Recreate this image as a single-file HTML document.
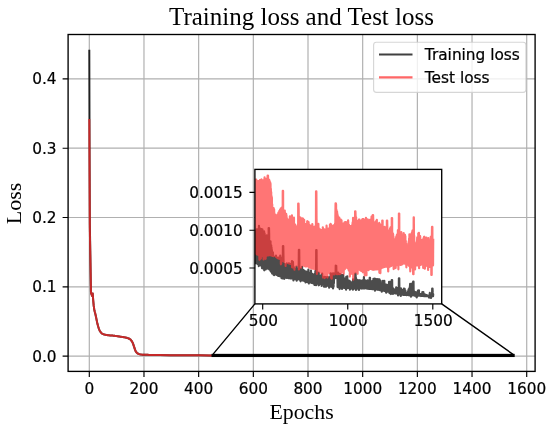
<!DOCTYPE html>
<html><head><meta charset="utf-8"><title>Training loss and Test loss</title>
<style>html,body{margin:0;padding:0;background:#fff}svg{display:block}</style></head>
<body>
<svg width="550" height="428" viewBox="0 0 550 428">
<rect width="550" height="428" fill="#fff"/>
<defs><clipPath id="cm"><rect x="68.1" y="34.5" width="467.0" height="336.9"/></clipPath><clipPath id="ci"><rect x="254.9" y="169.4" width="186.79999999999998" height="134.49999999999997"/></clipPath></defs>
<path d="M89.30 34.5V371.4M143.98 34.5V371.4M198.65 34.5V371.4M253.33 34.5V371.4M308.00 34.5V371.4M362.68 34.5V371.4M417.36 34.5V371.4M472.03 34.5V371.4M526.71 34.5V371.4M68.1 356.10H535.1M68.1 286.80H535.1M68.1 217.50H535.1M68.1 148.20H535.1M68.1 78.90H535.1" stroke="#b0b0b0" stroke-width="1.18" fill="none"/>
<g clip-path="url(#cm)" fill="none" stroke-width="2.0" stroke-linejoin="round" stroke-linecap="butt">
<path d="M89.30 49.66L89.57 148.20L89.85 224.43L90.60 270.00L91.00 293.00L92.10 296.00L92.70 293.50L93.20 300.22L93.70 305.66L94.20 309.18L94.70 311.48L95.20 313.37L95.70 315.46L96.20 317.88L96.70 320.36L97.20 322.67L97.70 324.66L98.20 326.53L98.70 328.24L99.20 329.65L99.70 330.66L100.20 331.51L100.70 332.24L101.20 332.85L101.70 333.31L102.20 333.61L102.70 333.85L103.20 334.07L103.70 334.27L104.20 334.44L104.70 334.60L105.20 334.73L105.70 334.85L106.20 334.95L106.70 335.04L107.20 335.11L107.70 335.18L108.20 335.24L108.70 335.29L109.20 335.34L109.70 335.38L110.20 335.42L110.70 335.46L111.20 335.49L111.70 335.53L112.20 335.57L112.70 335.62L113.20 335.67L113.70 335.72L114.20 335.78L114.70 335.85L115.20 335.91L115.70 335.98L116.20 336.05L116.70 336.12L117.20 336.20L117.70 336.27L118.20 336.35L118.70 336.43L119.20 336.51L119.70 336.58L120.20 336.66L120.70 336.74L121.20 336.81L121.70 336.88L122.20 336.95L122.70 337.03L123.20 337.11L123.70 337.19L124.20 337.28L124.70 337.37L125.20 337.47L125.70 337.58L126.20 337.70L126.70 337.83L127.20 337.97L127.70 338.13L128.20 338.31L128.70 338.51L129.20 338.75L129.70 339.02L130.20 339.34L130.70 339.79L131.20 340.37L131.70 341.07L132.20 341.88L132.70 342.80L133.20 344.11L133.70 345.62L134.20 347.09L134.70 348.67L135.20 350.20L135.70 351.30L136.20 352.00L136.70 352.61L137.20 353.11L137.70 353.49L138.20 353.76L138.70 353.94L139.20 354.09L139.70 354.24L140.20 354.36L140.70 354.46L141.20 354.55L141.70 354.62L142.20 354.67L142.70 354.70L143.20 354.72L143.70 354.74L144.20 354.76L144.70 354.78L145.20 354.79L145.70 354.81L146.20 354.82L146.70 354.83L147.20 354.85L147.70 354.86L148.20 354.87L148.70 354.88L149.20 354.89L149.70 354.90L150.20 354.91L150.70 354.91L151.20 354.92L151.70 354.93L152.20 354.93L152.70 354.94L153.20 354.95L153.70 354.95L154.20 354.96L154.70 354.96L155.20 354.97L155.70 354.97L156.20 354.98L156.70 354.99L157.20 354.99L157.70 355.00L158.20 355.00L158.70 355.01L159.20 355.01L159.70 355.02L160.00 355.02L170.00 355.13L180.00 355.22L190.00 355.29L200.00 355.35L210.00 355.39L220.00 355.43L230.00 355.46L240.00 355.48L250.00 355.51L260.00 355.53L270.00 355.55L280.00 355.57L290.00 355.58L300.00 355.60L310.00 355.62L320.00 355.63L330.00 355.65L340.00 355.67L350.00 355.68L360.00 355.70L370.00 355.71L380.00 355.73L390.00 355.74L400.00 355.75L410.00 355.77L420.00 355.78L430.00 355.79L440.00 355.80L450.00 355.81L460.00 355.82L470.00 355.83L480.00 355.84L490.00 355.84L499.37 355.85" stroke="#000" stroke-opacity="0.82"/>
<path d="M89.30 119.09L89.57 175.92L89.85 231.36L90.60 270.00L91.00 293.00L92.10 296.00L92.70 293.50L93.20 300.22L93.70 305.66L94.20 309.18L94.70 311.48L95.20 313.37L95.70 315.46L96.20 317.88L96.70 320.36L97.20 322.67L97.70 324.66L98.20 326.53L98.70 328.24L99.20 329.65L99.70 330.66L100.20 331.51L100.70 332.24L101.20 332.85L101.70 333.31L102.20 333.61L102.70 333.85L103.20 334.07L103.70 334.27L104.20 334.44L104.70 334.60L105.20 334.73L105.70 334.85L106.20 334.95L106.70 335.04L107.20 335.11L107.70 335.18L108.20 335.24L108.70 335.29L109.20 335.34L109.70 335.38L110.20 335.42L110.70 335.46L111.20 335.49L111.70 335.53L112.20 335.57L112.70 335.62L113.20 335.67L113.70 335.72L114.20 335.78L114.70 335.85L115.20 335.91L115.70 335.98L116.20 336.05L116.70 336.12L117.20 336.20L117.70 336.27L118.20 336.35L118.70 336.43L119.20 336.51L119.70 336.58L120.20 336.66L120.70 336.74L121.20 336.81L121.70 336.88L122.20 336.95L122.70 337.03L123.20 337.11L123.70 337.19L124.20 337.28L124.70 337.37L125.20 337.47L125.70 337.58L126.20 337.70L126.70 337.83L127.20 337.97L127.70 338.13L128.20 338.31L128.70 338.51L129.20 338.75L129.70 339.02L130.20 339.34L130.70 339.79L131.20 340.37L131.70 341.07L132.20 341.88L132.70 342.80L133.20 344.11L133.70 345.62L134.20 347.09L134.70 348.67L135.20 350.20L135.70 351.30L136.20 352.00L136.70 352.61L137.20 353.11L137.70 353.49L138.20 353.76L138.70 353.94L139.20 354.09L139.70 354.24L140.20 354.36L140.70 354.46L141.20 354.55L141.70 354.62L142.20 354.67L142.70 354.70L143.20 354.72L143.70 354.74L144.20 354.76L144.70 354.78L145.20 354.79L145.70 354.81L146.20 354.82L146.70 354.83L147.20 354.85L147.70 354.86L148.20 354.87L148.70 354.88L149.20 354.89L149.70 354.90L150.20 354.91L150.70 354.91L151.20 354.92L151.70 354.93L152.20 354.93L152.70 354.94L153.20 354.95L153.70 354.95L154.20 354.96L154.70 354.96L155.20 354.97L155.70 354.97L156.20 354.98L156.70 354.99L157.20 354.99L157.70 355.00L158.20 355.00L158.70 355.01L159.20 355.01L159.70 355.02L160.00 355.02L170.00 355.13L180.00 355.22L190.00 355.29L200.00 355.35L210.00 355.39L220.00 355.43L230.00 355.46L240.00 355.48L250.00 355.51L260.00 355.53L270.00 355.55L280.00 355.57L290.00 355.58L300.00 355.60L310.00 355.62L320.00 355.63L330.00 355.65L340.00 355.67L350.00 355.68L360.00 355.70L370.00 355.71L380.00 355.73L390.00 355.74L400.00 355.75L410.00 355.77L420.00 355.78L430.00 355.79L440.00 355.80L450.00 355.81L460.00 355.82L470.00 355.83L480.00 355.84L490.00 355.84L499.37 355.85" stroke="#e02828" stroke-opacity="0.85"/>
</g>
<rect x="68.1" y="34.5" width="467.0" height="336.9" fill="none" stroke="#000" stroke-width="1.35"/>
<path d="M89.30 371.4v5.5M143.98 371.4v5.5M198.65 371.4v5.5M253.33 371.4v5.5M308.00 371.4v5.5M362.68 371.4v5.5M417.36 371.4v5.5M472.03 371.4v5.5M526.71 371.4v5.5M68.1 356.10h-5.5M68.1 286.80h-5.5M68.1 217.50h-5.5M68.1 148.20h-5.5M68.1 78.90h-5.5" stroke="#000" stroke-width="1.15" fill="none"/>
<g font-family='"DejaVu Sans","Liberation Sans",sans-serif' font-size="15.3" fill="#000" stroke="#000" stroke-width="0.22">
<text x="89.30" y="393.6" text-anchor="middle">0</text>
<text x="143.98" y="393.6" text-anchor="middle">200</text>
<text x="198.65" y="393.6" text-anchor="middle">400</text>
<text x="253.33" y="393.6" text-anchor="middle">600</text>
<text x="308.00" y="393.6" text-anchor="middle">800</text>
<text x="362.68" y="393.6" text-anchor="middle">1000</text>
<text x="417.36" y="393.6" text-anchor="middle">1200</text>
<text x="472.03" y="393.6" text-anchor="middle">1400</text>
<text x="526.71" y="393.6" text-anchor="middle">1600</text>
<text x="56.5" y="361.60" text-anchor="end">0.0</text>
<text x="56.5" y="292.30" text-anchor="end">0.1</text>
<text x="56.5" y="223.00" text-anchor="end">0.2</text>
<text x="56.5" y="153.70" text-anchor="end">0.3</text>
<text x="56.5" y="84.40" text-anchor="end">0.4</text>
</g>
<g font-family='"Liberation Serif","DejaVu Serif",serif' fill="#000">
<text x="301.5" y="24.8" font-size="25" text-anchor="middle">Training loss and Test loss</text>
<text x="301.6" y="418.7" font-size="21.8" text-anchor="middle">Epochs</text>
<text transform="translate(21,203.5) rotate(-90)" font-size="22" text-anchor="middle">Loss</text>
</g>
<g fill="none" stroke="#000" stroke-width="1.4">
<rect x="212.52" y="354.85" width="301.18" height="1.19" stroke-width="2.0" fill="#000"/>
<path d="M254.9 303.9L212.52 354.85M441.7 303.9L513.70 354.85"/>
</g>
<rect x="254.9" y="169.4" width="186.79999999999998" height="134.49999999999997" fill="#fff"/>
<g clip-path="url(#ci)" fill="none" stroke-linejoin="round" stroke-width="2.2">
<path d="M253.20 231.64L253.37 264.49L253.54 233.58L253.71 264.16L253.88 232.48L254.05 263.20L254.22 262.85L254.39 262.72L254.56 232.98L254.73 262.90L254.90 234.04L255.07 262.78L255.24 232.28L255.41 263.18L255.58 230.97L255.75 263.26L255.92 230.78L256.09 263.24L256.26 230.24L256.43 262.65L256.60 229.43L256.77 263.36L256.94 230.53L257.11 229.64L257.28 263.86L257.45 263.35L257.62 229.46L257.79 263.86L257.96 230.62L258.13 264.00L258.30 229.82L258.47 264.14L258.64 263.94L258.81 266.11L258.98 225.78L259.15 264.47L259.32 230.04L259.49 229.87L259.65 230.84L259.82 264.15L259.99 228.78L260.16 264.82L260.33 228.75L260.50 264.39L260.67 228.87L260.84 264.67L261.01 265.35L261.18 265.45L261.35 229.52L261.52 266.18L261.69 229.10L261.86 266.23L262.03 268.07L262.20 266.70L262.37 229.38L262.54 266.32L262.71 231.18L262.88 268.48L263.05 231.78L263.22 267.80L263.39 234.00L263.56 268.00L263.73 232.89L263.90 268.42L264.07 231.27L264.24 270.34L264.41 235.92L264.58 233.34L264.75 237.23L264.92 269.21L265.09 239.49L265.26 269.09L265.43 240.06L265.60 269.42L265.77 269.12L265.94 268.97L266.11 239.48L266.28 268.44L266.45 238.95L266.62 238.97L266.79 235.41L266.96 267.71L267.13 239.79L267.30 267.52L267.47 238.64L267.64 267.43L267.81 239.09L267.98 268.64L268.15 238.76L268.32 267.88L268.49 268.29L268.66 228.10L268.83 228.10L268.99 228.10L269.16 234.46L269.33 269.40L269.50 269.11L269.67 269.60L269.84 269.75L270.01 241.03L270.18 242.19L270.35 270.56L270.52 241.29L270.69 271.20L270.86 245.65L271.03 271.31L271.20 245.23L271.37 272.09L271.54 247.61L271.71 272.18L271.88 249.96L272.05 273.52L272.22 251.75L272.39 272.09L272.56 272.88L272.73 272.74L272.90 252.37L273.07 254.96L273.24 255.25L273.41 274.50L273.58 272.99L273.75 274.97L273.92 256.87L274.09 275.17L274.26 257.46L274.43 273.85L274.60 257.06L274.77 273.84L274.94 257.87L275.11 274.00L275.28 258.49L275.45 274.31L275.62 258.51L275.79 274.52L275.96 255.60L276.13 274.46L276.30 260.24L276.47 274.79L276.64 258.16L276.81 274.92L276.98 258.64L277.15 274.86L277.32 257.73L277.49 275.29L277.66 259.50L277.83 275.59L278.00 275.65L278.17 275.39L278.33 257.63L278.50 275.88L278.67 258.19L278.84 275.95L279.01 258.11L279.18 275.67L279.35 258.34L279.52 276.21L279.69 258.03L279.86 276.11L280.03 259.39L280.20 255.58L280.37 259.45L280.54 276.43L280.71 260.29L280.88 262.01L281.05 257.50L281.22 276.24L281.39 258.14L281.56 278.14L281.73 262.04L281.90 276.27L282.07 262.93L282.24 277.93L282.41 262.35L282.58 276.81L282.75 278.42L282.92 246.10L283.09 246.10L283.26 246.10L283.43 255.10L283.60 263.84L283.77 264.11L283.94 276.86L284.11 264.65L284.28 278.86L284.45 264.71L284.62 263.98L284.79 277.48L284.96 264.30L285.13 264.41L285.30 277.24L285.47 265.65L285.64 277.56L285.81 277.61L285.98 277.71L286.15 265.81L286.32 277.35L286.49 277.71L286.66 277.83L286.83 263.47L287.00 277.12L287.17 266.53L287.34 277.66L287.51 267.95L287.67 277.30L287.84 267.06L288.01 267.94L288.18 268.25L288.35 278.14L288.52 269.43L288.69 267.53L288.86 263.40L289.03 277.84L289.20 278.10L289.37 278.12L289.54 266.74L289.71 278.15L289.88 263.79L290.05 277.82L290.22 278.13L290.39 278.38L290.56 265.96L290.73 278.15L290.90 266.09L291.07 278.46L291.24 265.98L291.41 265.12L291.58 265.59L291.75 278.07L291.92 261.20L292.09 278.29L292.26 267.16L292.43 278.16L292.60 265.48L292.77 278.51L292.94 261.93L293.11 266.03L293.28 266.60L293.45 280.45L293.62 266.84L293.79 278.38L293.96 267.85L294.13 278.67L294.30 268.70L294.47 278.84L294.64 278.79L294.81 278.71L294.98 278.74L295.15 278.97L295.32 270.21L295.49 278.50L295.66 270.21L295.83 279.10L296.00 269.67L296.17 278.85L296.34 266.59L296.51 278.68L296.68 280.57L296.85 279.04L297.01 269.18L297.18 279.34L297.35 279.27L297.52 279.33L297.69 279.36L297.86 270.71L298.03 278.88L298.20 269.36L298.37 270.01L298.54 279.24L298.71 264.91L298.88 249.80L299.05 249.80L299.22 249.80L299.39 267.93L299.56 279.76L299.73 269.63L299.90 279.73L300.07 279.84L300.24 279.22L300.41 269.01L300.58 281.34L300.75 268.97L300.92 279.97L301.09 279.99L301.26 279.34L301.43 270.62L301.60 280.09L301.77 269.20L301.94 279.96L302.11 266.78L302.28 280.11L302.45 280.22L302.62 280.37L302.79 270.04L302.96 280.30L303.13 271.00L303.30 280.77L303.47 270.04L303.64 280.64L303.81 270.89L303.98 280.39L304.15 270.56L304.32 280.62L304.49 271.63L304.66 281.10L304.83 271.22L305.00 281.26L305.17 271.93L305.34 280.78L305.51 282.48L305.68 280.94L305.85 272.57L306.02 281.48L306.19 271.48L306.35 281.64L306.52 272.71L306.69 281.74L306.86 272.26L307.03 281.91L307.20 281.65L307.37 281.25L307.54 271.96L307.71 272.84L307.88 273.07L308.05 282.15L308.22 272.19L308.39 269.63L308.56 281.86L308.73 283.50L308.90 282.30L309.07 281.63L309.24 272.92L309.41 281.91L309.58 274.22L309.75 281.95L309.92 272.98L310.09 282.36L310.26 274.85L310.43 273.06L310.60 273.60L310.77 274.50L310.94 270.54L311.11 282.68L311.28 274.26L311.45 282.07L311.62 282.89L311.79 282.29L311.96 273.57L312.13 282.73L312.30 274.18L312.47 282.79L312.64 276.22L312.81 276.60L312.98 283.15L313.15 283.25L313.32 282.59L313.49 282.80L313.66 275.71L313.83 283.33L314.00 274.29L314.17 283.10L314.34 274.58L314.51 285.01L314.68 276.25L314.85 283.36L315.02 275.59L315.19 283.50L315.36 271.19L315.53 283.43L315.69 275.90L315.86 283.37L316.03 285.14L316.20 250.10L316.37 250.10L316.54 250.10L316.71 274.36L316.88 283.54L317.05 276.32L317.22 283.55L317.39 276.63L317.56 283.45L317.73 283.39L317.90 283.39L318.07 276.15L318.24 276.24L318.41 276.45L318.58 285.34L318.75 272.63L318.92 285.16L319.09 275.88L319.26 283.78L319.43 276.19L319.60 283.73L319.77 275.88L319.94 283.23L320.11 276.39L320.28 283.30L320.45 277.74L320.62 283.85L320.79 277.65L320.96 284.11L321.13 277.39L321.30 284.24L321.47 274.27L321.64 286.02L321.81 284.14L321.98 284.14L322.15 273.69L322.32 284.41L322.49 277.53L322.66 283.95L322.83 278.17L323.00 284.52L323.17 278.23L323.34 284.29L323.51 279.54L323.68 284.67L323.85 278.36L324.02 286.67L324.19 276.98L324.36 285.00L324.53 276.94L324.70 284.49L324.87 284.95L325.03 286.76L325.20 285.12L325.37 285.08L325.54 276.99L325.71 284.98L325.88 277.66L326.05 286.76L326.22 278.88L326.39 278.23L326.56 278.32L326.73 285.40L326.90 277.55L327.07 277.09L327.24 278.09L327.41 285.47L327.58 277.58L327.75 277.57L327.92 277.85L328.09 286.00L328.26 277.65L328.43 285.91L328.60 277.32L328.77 286.14L328.94 278.03L329.11 287.69L329.28 277.81L329.45 287.34L329.62 277.11L329.79 285.76L329.96 277.81L330.13 286.46L330.30 277.27L330.47 286.47L330.64 273.47L330.81 286.20L330.98 277.00L331.15 286.32L331.32 278.41L331.49 286.47L331.66 278.52L331.83 286.90L332.00 278.19L332.17 286.60L332.34 273.69L332.51 286.72L332.68 277.86L332.85 287.19L333.02 288.33L333.19 287.10L333.36 273.36L333.53 286.83L333.70 276.69L333.87 283.20L334.04 276.63L334.21 278.91L334.37 276.09L334.54 277.42L334.71 275.32L334.88 277.73L335.05 274.96L335.22 277.67L335.39 272.50L335.56 277.79L335.73 265.60L335.90 265.80L336.07 265.80L336.24 265.80L336.41 272.27L336.58 277.88L336.75 275.06L336.92 277.80L337.09 275.45L337.26 275.30L337.43 275.52L337.60 287.10L337.77 276.97L337.94 287.22L338.11 272.68L338.28 287.43L338.45 276.57L338.62 287.13L338.79 276.79L338.96 287.51L339.13 277.45L339.30 287.69L339.47 278.00L339.64 289.08L339.81 273.88L339.98 287.83L340.15 287.29L340.32 287.37L340.49 277.60L340.66 287.76L340.83 287.38L341.00 287.23L341.17 278.87L341.34 287.76L341.51 274.94L341.68 287.49L341.85 278.54L342.02 288.88L342.19 279.02L342.36 287.07L342.53 277.87L342.70 287.95L342.87 278.11L343.04 287.63L343.21 274.74L343.38 278.18L343.55 279.40L343.71 287.52L343.88 279.11L344.05 287.56L344.22 287.55L344.39 287.82L344.56 278.63L344.73 287.94L344.90 280.06L345.07 288.04L345.24 279.34L345.41 287.87L345.58 280.22L345.75 287.40L345.92 279.11L346.09 289.72L346.26 276.84L346.43 276.88L346.60 280.08L346.77 288.02L346.94 288.05L347.11 279.63L347.28 276.27L347.45 287.70L347.62 280.00L347.79 280.20L347.96 280.44L348.13 287.84L348.30 280.53L348.47 280.29L348.64 280.44L348.81 287.87L348.98 281.16L349.15 287.50L349.32 280.91L349.49 288.24L349.66 281.57L349.83 289.67L350.00 282.13L350.17 289.36L350.34 281.51L350.51 288.22L350.68 282.46L350.85 283.73L351.02 282.40L351.19 288.19L351.36 282.84L351.53 288.44L351.70 282.76L351.87 287.96L352.04 288.13L352.21 288.17L352.38 287.90L352.55 288.18L352.72 281.83L352.89 289.71L353.05 279.41L353.22 288.43L353.39 281.51L353.56 288.42L353.73 281.59L353.90 288.48L354.07 282.02L354.24 288.24L354.41 288.21L354.58 288.45L354.75 280.99L354.92 288.59L355.09 280.91L355.26 273.50L355.43 273.50L355.60 273.50L355.77 288.44L355.94 290.00L356.11 278.15L356.28 288.39L356.45 280.49L356.62 288.21L356.79 280.32L356.96 288.09L357.13 280.38L357.30 288.01L357.47 288.45L357.64 288.12L357.81 280.17L357.98 280.34L358.15 282.25L358.32 288.25L358.49 280.49L358.66 289.79L358.83 280.36L359.00 289.92L359.17 280.51L359.34 281.37L359.51 281.03L359.68 280.39L359.85 280.25L360.02 280.48L360.19 280.67L360.36 288.04L360.53 288.14L360.70 288.30L360.87 281.16L361.04 288.52L361.21 280.94L361.38 288.38L361.55 280.88L361.72 288.56L361.89 281.83L362.06 288.45L362.23 280.51L362.39 288.45L362.56 280.62L362.73 288.46L362.90 282.24L363.07 288.26L363.24 288.01L363.41 288.32L363.58 280.51L363.75 288.47L363.92 277.10L364.09 288.04L364.26 280.11L364.43 288.25L364.60 280.66L364.77 288.45L364.94 280.89L365.11 281.02L365.28 280.55L365.45 287.74L365.62 281.34L365.79 280.58L365.96 280.89L366.13 288.31L366.30 281.16L366.47 288.44L366.64 281.21L366.81 288.40L366.98 281.41L367.15 281.44L367.32 288.60L367.49 288.65L367.66 280.40L367.83 288.74L368.00 288.54L368.17 288.50L368.34 281.07L368.51 288.58L368.68 288.41L368.85 288.89L369.02 280.62L369.19 288.63L369.36 288.47L369.53 288.03L369.70 277.83L369.87 288.91L370.04 277.96L370.21 287.63L370.38 281.11L370.55 281.33L370.72 282.32L370.89 288.88L371.06 288.68L371.23 288.63L371.40 281.46L371.57 288.61L371.73 282.80L371.90 289.03L372.07 281.29L372.24 288.66L372.41 281.66L372.58 289.13L372.75 282.47L372.92 289.10L373.09 282.58L373.26 289.04L373.43 278.77L373.60 289.16L373.77 282.22L373.94 281.99L374.11 281.34L374.28 289.30L374.45 282.70L374.62 289.40L374.79 278.51L374.96 290.76L375.13 281.57L375.30 289.55L375.47 289.49L375.64 289.43L375.81 282.20L375.98 282.99L376.15 279.16L376.32 289.49L376.49 282.42L376.66 289.40L376.83 288.48L377.00 289.38L377.17 283.25L377.34 289.68L377.51 283.01L377.68 282.60L377.85 279.05L378.02 289.79L378.19 283.18L378.36 289.17L378.53 279.24L378.70 283.52L378.87 283.11L379.04 289.84L379.21 283.27L379.38 279.40L379.55 283.71L379.72 290.06L379.89 285.01L380.06 283.91L380.23 283.64L380.40 289.88L380.57 280.76L380.74 290.26L380.91 284.20L381.07 290.26L381.24 290.26L381.41 290.24L381.58 290.45L381.75 291.58L381.92 290.02L382.09 290.03L382.26 283.38L382.43 290.61L382.60 285.21L382.77 284.26L382.94 280.95L383.11 290.72L383.28 284.91L383.45 290.44L383.62 284.57L383.79 290.46L383.96 284.78L384.13 290.51L384.30 280.87L384.47 290.94L384.64 284.20L384.81 284.06L384.98 286.25L385.15 291.10L385.32 284.94L385.49 284.91L385.66 285.42L385.83 291.07L386.00 290.97L386.17 292.76L386.34 285.10L386.51 284.70L386.68 284.60L386.85 285.62L387.02 290.94L387.19 291.55L387.36 285.25L387.53 285.28L387.70 285.16L387.87 291.20L388.04 291.74L388.21 291.10L388.38 285.00L388.55 290.95L388.72 286.15L388.89 291.82L389.06 281.83L389.23 291.42L389.40 284.78L389.57 293.11L389.74 285.71L389.91 291.89L390.08 281.86L390.25 292.03L390.41 285.63L390.58 291.96L390.75 285.72L390.92 294.06L391.09 285.80L391.26 292.39L391.43 285.32L391.60 292.48L391.77 280.10L391.94 280.10L392.11 280.10L392.28 292.56L392.45 292.45L392.62 289.54L392.79 288.11L392.96 293.93L393.13 288.49L393.30 292.78L393.47 290.59L393.64 292.89L393.81 291.22L393.98 293.05L394.15 289.26L394.32 293.07L394.49 292.47L394.66 293.01L394.83 289.80L395.00 292.35L395.17 292.21L395.34 293.31L395.51 291.94L395.68 293.28L395.85 293.37L396.02 293.47L396.19 287.26L396.36 293.51L396.53 291.14L396.70 293.45L396.87 289.65L397.04 293.77L397.21 290.00L397.38 289.91L397.55 288.47L397.72 293.74L397.89 289.16L398.06 295.40L398.23 288.41L398.40 293.74L398.57 287.38L398.74 294.10L398.91 278.30L399.08 278.30L399.25 278.30L399.42 294.43L399.59 290.99L399.75 294.44L399.92 291.89L400.09 291.64L400.26 294.28L400.43 294.02L400.60 294.43L400.77 295.97L400.94 288.38L401.11 292.76L401.28 294.60L401.45 294.58L401.62 292.49L401.79 294.58L401.96 290.88L402.13 290.90L402.30 290.71L402.47 294.40L402.64 290.03L402.81 294.40L402.98 294.31L403.15 294.43L403.32 294.74L403.49 294.58L403.66 294.91L403.83 288.64L404.00 289.30L404.17 289.43L404.34 289.07L404.51 294.60L404.68 288.94L404.85 295.02L405.02 294.93L405.19 294.36L405.36 290.50L405.53 294.96L405.70 292.02L405.87 292.54L406.04 293.44L406.21 294.93L406.38 294.19L406.55 295.15L406.72 294.87L406.89 294.59L407.06 294.69L407.23 294.96L407.40 295.00L407.57 292.81L407.74 292.31L407.91 294.73L408.08 291.26L408.25 295.11L408.42 290.48L408.59 289.69L408.76 289.16L408.93 294.99L409.09 289.43L409.26 295.05L409.43 288.20L409.60 295.34L409.77 288.05L409.94 286.97L410.11 283.97L410.28 294.53L410.45 286.72L410.62 295.24L410.79 286.35L410.96 296.74L411.13 287.63L411.30 295.18L411.47 287.19L411.64 295.10L411.81 295.33L411.98 283.58L412.15 286.94L412.32 295.02L412.49 295.38L412.66 295.04L412.83 287.25L413.00 295.14L413.17 281.50L413.34 281.50L413.51 281.50L413.68 295.10L413.85 292.11L414.02 295.51L414.19 291.28L414.36 295.65L414.53 291.96L414.70 295.58L414.87 293.83L415.04 293.66L415.21 294.45L415.38 295.30L415.55 295.08L415.72 295.38L415.89 292.84L416.06 292.25L416.23 292.52L416.40 297.02L416.57 295.43L416.74 297.42L416.91 295.60L417.08 295.05L417.25 294.45L417.42 295.58L417.59 294.30L417.76 295.64L417.93 290.52L418.10 295.26L418.27 293.48L418.43 295.45L418.60 293.85L418.77 295.65L418.94 290.30L419.11 295.38L419.28 293.97L419.45 295.74L419.62 294.11L419.79 295.77L419.96 293.81L420.13 294.32L420.30 294.38L420.47 295.70L420.64 294.04L420.81 295.77L420.98 295.98L421.15 295.26L421.32 294.82L421.49 294.89L421.66 294.96L421.83 295.62L422.00 295.10L422.17 295.95L422.34 292.22L422.51 295.86L422.68 292.32L422.85 295.53L423.02 294.63L423.19 295.38L423.36 292.14L423.53 295.59L423.70 294.64L423.87 296.09L424.04 294.43L424.21 294.23L424.38 295.83L424.55 295.88L424.72 294.51L424.89 294.40L425.06 296.07L425.23 295.82L425.40 295.84L425.57 296.13L425.74 294.89L425.91 295.78L426.08 295.01L426.25 295.75L426.42 295.14L426.59 296.18L426.76 295.27L426.93 295.99L427.10 295.39L427.27 295.96L427.44 295.52L427.61 295.59L427.77 295.65L427.94 295.97L428.11 295.77L428.28 296.14L428.45 295.86L428.62 295.80L428.79 297.49L428.96 296.16L429.13 296.41L429.30 296.48L429.47 295.48L429.64 295.41L429.81 292.96L429.98 297.64L430.15 296.27L430.32 296.49L430.49 295.09L430.66 296.45L430.83 296.57L431.00 297.88L431.17 295.09L431.34 296.45L431.51 296.53L431.68 296.50L431.85 295.06L432.02 296.45L432.19 288.50L432.36 288.50L432.53 288.50L432.70 292.41L432.87 294.19L433.04 296.10L433.21 293.66" stroke="#000" stroke-opacity="0.7"/>
<path d="M253.20 180.02L253.37 184.24L253.54 183.41L253.71 183.38L253.88 183.43L254.05 253.60L254.22 183.67L254.39 252.66L254.56 183.82L254.73 253.14L254.90 183.57L255.07 183.64L255.24 179.65L255.41 252.86L255.58 183.14L255.75 253.48L255.92 182.17L256.09 253.28L256.26 179.70L256.43 253.49L256.60 182.81L256.77 254.30L256.94 254.11L257.11 182.55L257.28 254.10L257.45 254.33L257.62 181.65L257.79 254.66L257.96 181.20L258.13 254.82L258.30 181.88L258.47 254.34L258.64 181.46L258.81 253.57L258.98 180.86L259.15 254.25L259.32 254.24L259.49 259.79L259.65 254.67L259.82 255.19L259.99 180.01L260.16 255.48L260.33 180.20L260.50 255.20L260.67 180.59L260.84 258.57L261.01 180.48L261.18 180.25L261.35 255.01L261.52 179.45L261.69 179.79L261.86 254.93L262.03 181.57L262.20 255.69L262.37 181.04L262.54 256.16L262.71 182.34L262.88 255.15L263.05 181.27L263.22 256.01L263.39 181.07L263.56 259.44L263.73 180.13L263.90 255.97L264.07 180.22L264.24 255.41L264.41 179.96L264.58 177.46L264.75 180.28L264.92 254.65L265.09 180.44L265.26 180.23L265.43 180.65L265.60 258.80L265.77 180.14L265.94 179.86L266.11 180.03L266.28 179.39L266.45 178.86L266.62 255.41L266.79 179.98L266.96 255.61L267.13 178.77L267.30 255.24L267.47 179.31L267.64 175.60L267.81 175.60L267.98 175.60L268.15 179.77L268.32 255.44L268.49 179.95L268.66 250.69L268.83 179.63L268.99 179.55L269.16 179.82L269.33 254.91L269.50 180.77L269.67 255.11L269.84 182.18L270.01 255.27L270.18 182.23L270.35 254.76L270.52 183.69L270.69 255.31L270.86 188.81L271.03 255.51L271.20 192.19L271.37 255.21L271.54 195.99L271.71 198.47L271.88 197.55L272.05 255.21L272.22 204.42L272.39 255.88L272.56 255.48L272.73 255.87L272.90 208.07L273.07 253.94L273.24 255.56L273.41 256.09L273.58 208.10L273.75 255.85L273.92 255.98L274.09 209.23L274.26 213.00L274.43 255.31L274.60 213.90L274.77 255.57L274.94 214.60L275.11 255.52L275.28 215.38L275.45 215.76L275.62 216.41L275.79 255.53L275.96 216.99L276.13 257.03L276.30 216.98L276.47 216.35L276.64 216.20L276.81 215.60L276.98 215.26L277.15 257.75L277.32 214.54L277.49 257.93L277.66 258.10L277.83 257.77L278.00 258.25L278.17 258.30L278.33 212.95L278.50 258.21L278.67 212.26L278.84 258.72L279.01 212.49L279.18 258.65L279.35 210.95L279.52 211.40L279.69 210.89L279.86 258.91L280.03 209.87L280.20 259.16L280.37 209.57L280.54 259.42L280.71 208.60L280.88 264.36L281.05 208.34L281.22 263.63L281.39 209.80L281.56 208.20L281.73 207.59L281.90 260.54L282.07 207.56L282.24 260.56L282.41 208.15L282.58 260.25L282.75 190.90L282.92 190.90L283.09 190.90L283.26 261.20L283.43 211.72L283.60 261.46L283.77 212.99L283.94 261.70L284.11 213.65L284.28 214.47L284.45 213.92L284.62 260.55L284.79 210.63L284.96 261.04L285.13 213.52L285.30 261.40L285.47 260.75L285.64 265.91L285.81 213.77L285.98 262.34L286.15 213.77L286.32 261.99L286.49 215.39L286.66 262.77L286.83 217.98L287.00 262.16L287.17 220.24L287.34 262.86L287.51 221.65L287.67 222.27L287.84 219.42L288.01 262.95L288.18 223.68L288.35 263.26L288.52 223.51L288.69 263.28L288.86 221.68L289.03 262.81L289.20 220.87L289.37 263.04L289.54 221.36L289.71 263.68L289.88 216.24L290.05 219.25L290.22 218.93L290.39 263.43L290.56 218.42L290.73 263.94L290.90 262.28L291.07 263.95L291.24 264.16L291.41 263.18L291.58 218.22L291.75 218.15L291.92 215.42L292.09 267.37L292.26 263.17L292.43 267.46L292.60 217.69L292.77 264.32L292.94 219.25L293.11 267.49L293.28 263.55L293.45 264.59L293.62 264.12L293.79 264.96L293.96 217.71L294.13 264.81L294.30 265.22L294.47 269.74L294.64 264.04L294.81 264.99L294.98 224.36L295.15 227.14L295.32 227.32L295.49 264.69L295.66 227.06L295.83 265.72L296.00 226.86L296.17 265.59L296.34 227.17L296.51 264.32L296.68 226.99L296.85 265.48L297.01 227.88L297.18 264.62L297.35 225.96L297.52 226.72L297.69 225.00L297.86 265.04L298.03 265.26L298.20 203.60L298.37 203.60L298.54 203.60L298.71 210.32L298.88 269.42L299.05 216.69L299.22 265.24L299.39 217.05L299.56 217.65L299.73 218.22L299.90 264.32L300.07 218.59L300.24 264.45L300.41 217.49L300.58 264.97L300.75 218.02L300.92 267.71L301.09 218.07L301.26 218.31L301.43 218.31L301.60 264.42L301.77 220.15L301.94 263.94L302.11 219.90L302.28 265.26L302.45 218.46L302.62 264.86L302.79 219.48L302.96 218.61L303.13 263.92L303.30 265.04L303.47 265.60L303.64 264.44L303.81 265.34L303.98 265.03L304.15 219.83L304.32 265.79L304.49 265.93L304.66 266.12L304.83 223.84L305.00 265.66L305.17 264.51L305.34 266.31L305.51 225.10L305.68 264.28L305.85 224.12L306.02 224.17L306.19 266.42L306.35 266.47L306.52 265.90L306.69 265.99L306.86 224.72L307.03 265.42L307.20 221.27L307.37 265.52L307.54 221.35L307.71 265.61L307.88 224.39L308.05 266.46L308.22 225.83L308.39 266.87L308.56 222.14L308.73 225.42L308.90 225.14L309.07 267.39L309.24 224.94L309.41 267.03L309.58 226.04L309.75 267.57L309.92 267.62L310.09 267.00L310.26 225.65L310.43 267.57L310.60 225.92L310.77 225.83L310.94 227.33L311.11 267.33L311.28 226.31L311.45 268.39L311.62 226.46L311.79 226.78L311.96 267.46L312.13 268.03L312.30 224.19L312.47 267.51L312.64 226.81L312.81 268.72L312.98 226.93L313.15 267.94L313.32 227.10L313.49 226.66L313.66 227.14L313.83 268.68L314.00 267.10L314.17 268.90L314.34 267.95L314.51 268.82L314.68 227.06L314.85 269.05L315.02 226.59L315.19 268.77L315.36 226.59L315.53 268.80L315.69 225.40L315.86 268.65L316.03 191.40L316.20 191.40L316.37 191.40L316.54 218.60L316.71 227.19L316.88 273.94L317.05 270.07L317.22 270.38L317.39 226.65L317.56 227.35L317.73 270.30L317.90 226.46L318.07 226.95L318.24 270.78L318.41 223.93L318.58 271.16L318.75 228.10L318.92 270.20L319.09 229.66L319.26 270.41L319.43 229.28L319.60 271.71L319.77 229.22L319.94 270.29L320.11 229.52L320.28 271.90L320.45 231.14L320.62 272.03L320.79 230.52L320.96 272.03L321.13 230.45L321.30 273.01L321.47 230.09L321.64 271.94L321.81 273.00L321.98 271.56L322.15 272.84L322.32 273.39L322.49 273.05L322.66 272.72L322.83 227.28L323.00 277.55L323.17 273.09L323.34 273.13L323.51 273.37L323.68 272.39L323.85 272.50L324.02 230.23L324.19 229.49L324.36 229.31L324.53 230.22L324.70 278.07L324.87 229.61L325.03 277.42L325.20 229.61L325.37 274.02L325.54 229.70L325.71 274.48L325.88 229.41L326.05 272.88L326.22 276.51L326.39 273.27L326.56 225.68L326.73 230.10L326.90 229.00L327.07 273.35L327.24 229.17L327.41 277.59L327.58 229.16L327.75 272.23L327.92 228.90L328.09 271.44L328.26 229.61L328.43 272.64L328.60 228.65L328.77 272.74L328.94 228.39L329.11 272.35L329.28 230.49L329.45 272.99L329.62 228.22L329.79 273.35L329.96 224.55L330.13 272.96L330.30 227.73L330.47 271.97L330.64 223.89L330.81 273.67L330.98 224.50L331.15 277.91L331.32 226.65L331.49 274.29L331.66 278.59L331.83 274.14L332.00 226.74L332.17 273.93L332.34 226.93L332.51 225.93L332.68 226.50L332.85 274.17L333.02 226.04L333.19 273.96L333.36 274.01L333.53 272.75L333.70 225.48L333.87 274.38L334.04 225.34L334.21 274.10L334.37 224.94L334.54 274.37L334.71 225.34L334.88 273.18L335.05 223.59L335.22 272.80L335.39 216.04L335.56 203.40L335.73 203.40L335.90 203.40L336.07 204.57L336.24 273.62L336.41 209.71L336.58 272.70L336.75 211.22L336.92 274.15L337.09 211.63L337.26 272.82L337.43 213.98L337.60 272.51L337.77 215.66L337.94 274.25L338.11 217.23L338.28 274.12L338.45 217.58L338.62 218.92L338.79 219.54L338.96 219.08L339.13 220.30L339.30 217.68L339.47 221.64L339.64 274.17L339.81 222.46L339.98 273.40L340.15 222.78L340.32 273.50L340.49 273.50L340.66 273.57L340.83 219.60L341.00 272.22L341.17 223.12L341.34 272.82L341.51 220.31L341.68 271.27L341.85 223.48L342.02 271.71L342.19 224.09L342.36 271.42L342.53 269.93L342.70 271.05L342.87 223.75L343.04 271.18L343.21 223.90L343.38 269.75L343.55 223.23L343.71 273.74L343.88 223.41L344.05 269.08L344.22 223.47L344.39 269.57L344.56 222.42L344.73 267.77L344.90 222.30L345.07 268.89L345.24 222.28L345.41 268.16L345.58 222.12L345.75 267.01L345.92 222.89L346.09 222.61L346.26 222.18L346.43 266.67L346.60 222.58L346.77 267.22L346.94 267.18L347.11 266.96L347.28 223.31L347.45 267.89L347.62 223.20L347.79 268.50L347.96 223.92L348.13 220.24L348.30 224.13L348.47 224.99L348.64 224.83L348.81 270.43L348.98 224.87L349.15 270.24L349.32 225.99L349.49 271.13L349.66 226.56L349.83 276.62L350.00 225.95L350.17 272.14L350.34 226.68L350.51 272.79L350.68 226.74L350.85 272.59L351.02 226.32L351.19 273.42L351.36 226.32L351.53 273.72L351.70 227.85L351.87 273.34L352.04 226.50L352.21 273.38L352.38 223.77L352.55 223.26L352.72 222.11L352.89 274.76L353.05 217.93L353.22 279.66L353.39 273.51L353.56 274.89L353.73 219.93L353.90 273.07L354.07 220.17L354.24 272.33L354.41 218.82L354.58 218.55L354.75 218.57L354.92 272.85L355.09 211.30L355.26 211.30L355.43 211.30L355.60 216.12L355.77 220.82L355.94 271.97L356.11 217.31L356.28 270.21L356.45 222.38L356.62 269.88L356.79 221.79L356.96 269.58L357.13 220.93L357.30 269.44L357.47 221.97L357.64 273.85L357.81 223.46L357.98 222.49L358.15 221.93L358.32 268.05L358.49 222.83L358.66 222.04L358.83 219.53L359.00 269.45L359.17 222.13L359.34 269.48L359.51 219.63L359.68 269.34L359.85 270.01L360.02 270.02L360.19 222.23L360.36 222.88L360.53 221.78L360.70 270.73L360.87 221.60L361.04 270.65L361.21 221.36L361.38 270.79L361.55 220.56L361.72 220.70L361.89 220.12L362.06 271.13L362.23 219.58L362.39 271.42L362.56 219.02L362.73 272.12L362.90 272.29L363.07 271.16L363.24 219.11L363.41 271.82L363.58 219.19L363.75 219.23L363.92 271.73L364.09 271.42L364.26 219.62L364.43 271.60L364.60 271.62L364.77 275.39L364.94 221.76L365.11 270.70L365.28 220.66L365.45 270.44L365.62 220.32L365.79 271.24L365.96 217.85L366.13 269.11L366.30 222.37L366.47 275.16L366.64 222.06L366.81 270.32L366.98 223.32L367.15 269.99L367.32 222.46L367.49 222.21L367.66 219.44L367.83 223.07L368.00 222.12L368.17 269.91L368.34 269.76L368.51 270.15L368.68 220.99L368.85 268.81L369.02 220.85L369.19 269.30L369.36 220.83L369.53 268.74L369.70 219.83L369.87 220.04L370.04 220.36L370.21 268.84L370.38 220.10L370.55 220.12L370.72 220.12L370.89 268.99L371.06 219.45L371.23 269.09L371.40 220.10L371.57 216.59L371.73 220.07L371.90 219.41L372.07 269.12L372.24 268.85L372.41 269.51L372.58 269.60L372.75 215.10L372.92 215.10L373.09 215.10L373.26 221.21L373.43 221.93L373.60 269.16L373.77 223.01L373.94 269.80L374.11 222.88L374.28 268.90L374.45 223.43L374.62 268.33L374.79 223.72L374.96 269.41L375.13 224.01L375.30 267.45L375.47 222.28L375.64 222.24L375.81 221.42L375.98 268.42L376.15 221.65L376.32 269.52L376.49 221.97L376.66 268.73L376.83 219.85L377.00 268.88L377.17 269.00L377.34 268.67L377.51 223.90L377.68 269.31L377.85 224.80L378.02 268.35L378.19 224.58L378.36 269.03L378.53 224.03L378.70 268.66L378.87 267.64L379.04 268.54L379.21 222.94L379.38 272.50L379.55 272.88L379.72 268.42L379.89 224.04L380.06 271.77L380.23 271.53L380.40 273.17L380.57 224.75L380.74 267.84L380.91 226.67L381.07 268.37L381.24 225.73L381.41 268.00L381.58 226.02L381.75 268.06L381.92 226.53L382.09 266.93L382.26 220.60L382.43 220.60L382.60 220.60L382.77 266.94L382.94 229.21L383.11 267.49L383.28 229.31L383.45 266.58L383.62 229.29L383.79 267.12L383.96 229.92L384.13 266.32L384.30 231.31L384.47 265.53L384.64 226.95L384.81 266.89L384.98 265.81L385.15 266.40L385.32 266.63L385.49 266.69L385.66 232.05L385.83 265.24L386.00 230.35L386.17 227.60L386.34 227.91L386.51 266.65L386.68 266.47L386.85 220.60L387.02 220.60L387.19 220.60L387.36 227.48L387.53 266.61L387.70 232.31L387.87 266.45L388.04 267.14L388.21 271.44L388.38 230.24L388.55 266.44L388.72 266.39L388.89 267.30L389.06 233.35L389.23 233.87L389.40 233.67L389.57 266.75L389.74 232.26L389.91 231.72L390.08 228.41L390.25 266.28L390.41 266.17L390.58 265.61L390.75 227.12L390.92 265.50L391.09 231.38L391.26 265.86L391.43 265.75L391.60 265.62L391.77 218.10L391.94 218.10L392.11 218.10L392.28 265.06L392.45 232.99L392.62 264.22L392.79 233.25L392.96 264.25L393.13 234.19L393.30 264.54L393.47 236.65L393.64 269.08L393.81 239.18L393.98 264.73L394.15 241.74L394.32 242.36L394.49 243.81L394.66 264.76L394.83 264.15L395.00 268.17L395.17 241.42L395.34 267.81L395.51 240.36L395.68 267.92L395.85 238.43L396.02 265.34L396.19 236.94L396.36 264.50L396.53 236.07L396.70 264.98L396.87 234.86L397.04 264.51L397.21 234.76L397.38 265.29L397.55 233.88L397.72 265.40L397.89 230.17L398.06 264.80L398.23 233.46L398.40 269.29L398.57 232.18L398.74 264.15L398.91 213.60L399.08 213.60L399.25 213.60L399.42 264.45L399.59 234.87L399.75 231.90L399.92 232.08L400.09 264.17L400.26 235.71L400.43 264.91L400.60 235.26L400.77 264.95L400.94 264.34L401.11 263.38L401.28 232.13L401.45 236.01L401.62 236.16L401.79 264.61L401.96 235.80L402.13 264.19L402.30 263.25L402.47 263.31L402.64 236.26L402.81 263.05L402.98 263.70L403.15 262.99L403.32 236.92L403.49 237.23L403.66 232.98L403.83 262.88L404.00 237.70L404.17 263.49L404.34 236.98L404.51 238.66L404.68 239.37L404.85 263.69L405.02 234.94L405.19 262.58L405.36 236.31L405.53 263.41L405.70 240.50L405.87 242.20L406.04 242.84L406.21 263.21L406.38 267.32L406.55 262.80L406.72 247.02L406.89 248.20L407.06 250.39L407.23 262.33L407.40 252.51L407.57 262.84L407.74 249.83L407.91 264.33L408.08 264.68L408.25 244.87L408.42 243.29L408.59 264.54L408.76 241.27L408.93 265.78L409.09 238.53L409.26 264.75L409.43 234.23L409.60 266.09L409.77 236.97L409.94 235.99L410.11 266.60L410.28 271.35L410.45 235.18L410.62 267.59L410.79 267.55L410.96 234.81L411.13 234.04L411.30 266.95L411.47 234.13L411.64 267.02L411.81 232.96L411.98 267.41L412.15 232.12L412.32 266.62L412.49 230.61L412.66 267.17L412.83 266.88L413.00 268.20L413.17 274.20L413.34 274.20L413.51 274.20L413.68 217.40L413.85 217.40L414.02 266.03L414.19 235.81L414.36 265.17L414.53 264.87L414.70 265.67L414.87 243.23L415.04 269.38L415.21 265.18L415.38 265.44L415.55 243.88L415.72 243.56L415.89 245.37L416.06 265.03L416.23 244.18L416.40 265.28L416.57 242.36L416.74 265.29L416.91 241.19L417.08 240.62L417.25 237.35L417.42 265.35L417.59 264.64L417.76 265.04L417.93 238.71L418.10 265.25L418.27 233.29L418.43 264.47L418.60 235.63L418.77 265.28L418.94 232.90L419.11 268.20L419.28 236.59L419.45 264.57L419.62 237.33L419.79 238.85L419.96 238.54L420.13 236.11L420.30 239.94L420.47 265.01L420.64 264.08L420.81 264.18L420.98 241.81L421.15 264.37L421.32 241.64L421.49 241.65L421.66 240.63L421.83 240.16L422.00 240.15L422.17 264.02L422.34 240.10L422.51 264.38L422.68 239.70L422.85 264.86L423.02 239.41L423.19 268.02L423.36 265.02L423.53 264.43L423.70 237.94L423.87 264.83L424.04 236.92L424.21 264.94L424.38 236.77L424.55 264.95L424.72 268.75L424.89 268.40L425.06 238.39L425.23 265.53L425.40 239.69L425.57 239.29L425.74 239.43L425.91 265.83L426.08 240.34L426.25 241.47L426.42 237.55L426.59 265.21L426.76 239.46L426.93 242.87L427.10 243.73L427.27 266.10L427.44 238.81L427.61 266.38L427.77 265.15L427.94 265.95L428.11 269.94L428.28 241.83L428.45 238.14L428.62 265.98L428.79 240.71L428.96 266.85L429.13 241.73L429.30 266.43L429.47 240.26L429.64 266.91L429.81 240.10L429.98 266.51L430.15 240.73L430.32 266.78L430.49 240.49L430.66 267.15L430.83 236.62L431.00 267.04L431.17 239.05L431.34 274.90L431.51 274.90L431.68 274.90L431.85 236.70L432.02 226.90L432.19 226.90L432.36 226.90L432.53 263.44L432.70 262.07L432.87 265.36L433.04 265.07L433.21 238.82" stroke="#ff3b3b" stroke-opacity="0.7"/>
</g>
<rect x="254.9" y="169.4" width="186.79999999999998" height="134.49999999999997" fill="none" stroke="#000" stroke-width="1.35"/>
<path d="M262.70 303.9v5.5M347.75 303.9v5.5M432.80 303.9v5.5M254.9 192.4h-5.5M254.9 230.2h-5.5M254.9 268.0h-5.5" stroke="#000" stroke-width="1.15" fill="none"/>
<g font-family='"DejaVu Sans","Liberation Sans",sans-serif' font-size="15.3" fill="#000" stroke="#000" stroke-width="0.22">
<text x="263.39" y="326.3" text-anchor="middle">500</text>
<text x="348.30" y="326.3" text-anchor="middle">1000</text>
<text x="433.21" y="326.3" text-anchor="middle">1500</text>
<text x="242.8" y="197.90" text-anchor="end">0.0015</text>
<text x="242.8" y="235.70" text-anchor="end">0.0010</text>
<text x="242.8" y="273.50" text-anchor="end">0.0005</text>
</g>
<rect x="373.6" y="42.3" width="152.3" height="50.1" rx="2.8" fill="#fff" fill-opacity="0.8" stroke="#ccc" stroke-opacity="0.8" stroke-width="1.1"/>
<path d="M379 54.5H412.5" stroke="#404040" stroke-width="2.2"/>
<path d="M379 77.4H412.5" stroke="#ff6666" stroke-width="2.2"/>
<g font-family='"DejaVu Sans","Liberation Sans",sans-serif' font-size="15.35" fill="#000" stroke="#000" stroke-width="0.22">
<text x="424.8" y="59.9">Training loss</text>
<text x="424.8" y="82.8">Test loss</text>
</g>
</svg>
</body></html>
